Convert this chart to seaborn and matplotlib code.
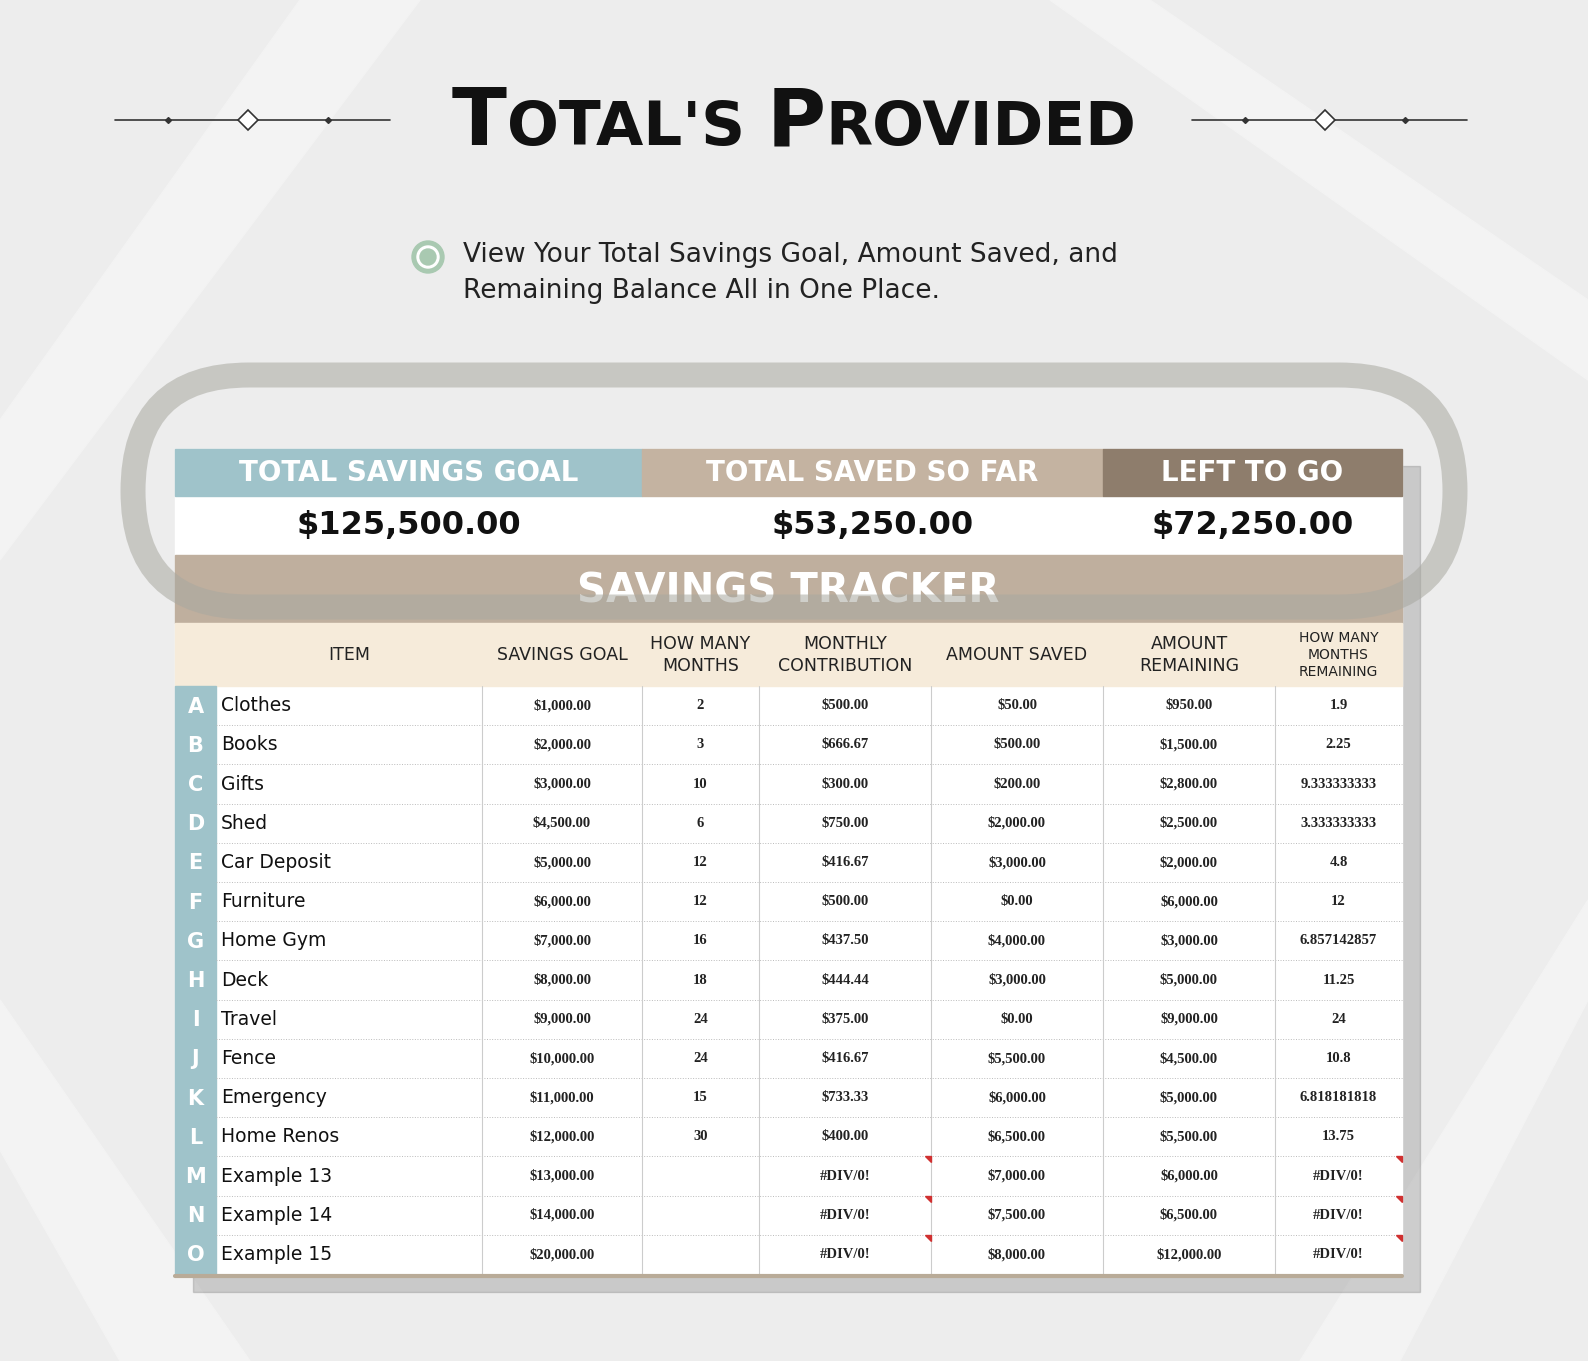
import matplotlib
matplotlib.use("Agg")
import matplotlib.pyplot as plt
import seaborn as sns
from matplotlib.patches import Rectangle, FancyBboxPatch, Polygon, Circle

sns.set_theme(style="white")
plt.rcParams['font.family'] = ['DejaVu Sans']

# ---------------- data ----------------
letters = list("ABCDEFGHIJKLMNO")
items = ["Clothes", "Books", "Gifts", "Shed", "Car Deposit", "Furniture", "Home Gym", "Deck",
         "Travel", "Fence", "Emergency", "Home Renos", "Example 13", "Example 14", "Example 15"]
goals = ["$1,000.00", "$2,000.00", "$3,000.00", "$4,500.00", "$5,000.00", "$6,000.00", "$7,000.00",
         "$8,000.00", "$9,000.00", "$10,000.00", "$11,000.00", "$12,000.00", "$13,000.00",
         "$14,000.00", "$20,000.00"]
months = ["2", "3", "10", "6", "12", "12", "16", "18", "24", "24", "15", "30", "", "", ""]
monthly = ["$500.00", "$666.67", "$300.00", "$750.00", "$416.67", "$500.00", "$437.50", "$444.44",
           "$375.00", "$416.67", "$733.33", "$400.00", "#DIV/0!", "#DIV/0!", "#DIV/0!"]
saved = ["$50.00", "$500.00", "$200.00", "$2,000.00", "$3,000.00", "$0.00", "$4,000.00", "$3,000.00",
         "$0.00", "$5,500.00", "$6,000.00", "$6,500.00", "$7,000.00", "$7,500.00", "$8,000.00"]
remaining = ["$950.00", "$1,500.00", "$2,800.00", "$2,500.00", "$2,000.00", "$6,000.00", "$3,000.00",
             "$5,000.00", "$9,000.00", "$4,500.00", "$5,000.00", "$5,500.00", "$6,000.00",
             "$6,500.00", "$12,000.00"]
months_left = ["1.9", "2.25", "9.333333333", "3.333333333", "4.8", "12", "6.857142857", "11.25",
               "24", "10.8", "6.818181818", "13.75", "#DIV/0!", "#DIV/0!", "#DIV/0!"]
headers = ["ITEM", "SAVINGS GOAL", "HOW MANY\nMONTHS", "MONTHLY\nCONTRIBUTION", "AMOUNT SAVED",
           "AMOUNT\nREMAINING", "HOW MANY\nMONTHS\nREMAINING"]
totals_labels = ["TOTAL SAVINGS GOAL", "TOTAL SAVED SO FAR", "LEFT TO GO"]
totals_values = ["$125,500.00", "$53,250.00", "$72,250.00"]

TEAL, TAN, BROWN, CREAM = "#9fc3ca", "#c4b3a1", "#8e7d6c", "#f6ebda"

fig = plt.figure(figsize=(15.88, 13.61), dpi=100)
ax = fig.add_axes([0, 0, 1, 1])
ax.set_xlim(0, 1588)
ax.set_ylim(1361, 0)
ax.axis("off")
ax.add_patch(Rectangle((0, 0), 1588, 1361, color="#ededed", zorder=0))
for pts in [[(0, 420), (300, 0), (420, 0), (0, 560)], [(1150, 0), (1588, 300), (1588, 380), (1050, 0)],
            [(1300, 1361), (1588, 900), (1588, 1000), (1400, 1361)], [(0, 1000), (250, 1361), (120, 1361), (0, 1150)]]:
    ax.add_patch(Polygon(pts, color="#f3f3f3", zorder=0.5))

# title (small caps look)
ax.text(794, 120, "T$\\mathregular{{}}$", alpha=0)
title_parts = [("T", 58), ("OTAL'S ", 44), ("P", 58), ("ROVIDED", 44)]
renderer = fig.canvas.get_renderer()
objs, widths = [], []
for s, fs in title_parts:
    t = ax.text(0, 145, s, ha="left", va="baseline", fontsize=fs, fontweight="heavy", color="#111111")
    bb = t.get_window_extent(renderer=renderer)
    objs.append(t)
    widths.append(bb.width)
x = 794 - sum(widths) / 2
for t, w in zip(objs, widths):
    t.set_x(x)
    x += w
for x0, x1 in [(115, 390), (1192, 1467)]:
    ax.plot([x0, x1], [120, 120], color="#333333", lw=1.2)
    cx = (x0 + x1) / 2 - 5
    ax.plot([cx], [120], marker="D", ms=10, mfc="white", mec="#333333", mew=1.2)
    for dx in (-80, 80):
        ax.plot([cx + dx], [120], marker="D", ms=3, color="#333333")

# bullet
ax.add_patch(Circle((428, 257), 16, color="#a9c9b1"))
ax.add_patch(Circle((428, 257), 11, color="white"))
ax.add_patch(Circle((428, 257), 8, color="#a9c9b1"))
ax.text(463, 255, "View Your Total Savings Goal, Amount Saved, and", va="center", fontsize=19, color="#222222")
ax.text(463, 291, "Remaining Balance All in One Place.", va="center", fontsize=19, color="#222222")

# table
L, R = 175, 1402
cols = [175, 216, 482, 642, 759, 931, 1103, 1275, 1402]
ax.add_patch(Rectangle((L + 18, 466), R - L, 826, color="#777777", alpha=0.3, zorder=1))
ax.add_patch(Rectangle((L, 449), R - L, 825, color="white", zorder=2))
bx = [(175, 642, TEAL), (642, 1103, TAN), (1103, 1402, BROWN)]
for (x0, x1, c), lab, val in zip(bx, totals_labels, totals_values):
    ax.add_patch(Rectangle((x0, 449), x1 - x0, 47, color=c, zorder=3))
    ax.text((x0 + x1) / 2, 473, lab, ha="center", va="center", fontsize=20, fontweight="bold",
            color="white", zorder=4)
    ax.text((x0 + x1) / 2, 525, val, ha="center", va="center", fontsize=23, fontweight="bold", color="#111111", zorder=4)
ax.add_patch(Rectangle((L, 555), R - L, 68, color="#bfaf9e", zorder=3))
ax.text((L + R) / 2, 591, "SAVINGS TRACKER", ha="center", va="center", fontsize=29, fontweight="bold",
        color="white", zorder=4)
ax.add_patch(Rectangle((L, 623), R - L, 63, color=CREAM, zorder=3))
for i, h in enumerate(headers):
    ax.text((cols[i + 1] + cols[i + 2]) / 2, 655, h, ha="center", va="center",
            fontsize=10 if i == 6 else 12.5, color="#222222", zorder=4, linespacing=1.3)
top, rh = 686, 39.2
ax.add_patch(Rectangle((L, top), cols[1] - L, rh * 15, color=TEAL, zorder=3))
for r in range(15):
    y = top + rh * r + rh / 2
    ax.text((cols[0] + cols[1]) / 2, y + 1, letters[r], ha="center", va="center", fontsize=15,
            fontweight="bold", color="white", zorder=4)
    ax.text(cols[1] + 5, y, items[r], ha="left", va="center", fontsize=13.5, color="#111111", zorder=4)
    for j, vals in enumerate([goals, months, monthly, saved, remaining, months_left]):
        ax.text((cols[j + 2] + cols[j + 3]) / 2, y, vals[r], ha="center", va="center", fontsize=10.5,
                family="Liberation Serif", fontweight="bold", color="#222222", zorder=4)
    ax.plot([cols[1], R], [top + rh * (r + 1)] * 2, color="#bbbbbb", lw=0.7, ls=":", zorder=4)
    if r >= 12:
        for xc in (cols[5], R):
            ax.add_patch(Polygon([(xc - 6, top + rh * r), (xc, top + rh * r), (xc, top + rh * r + 6)],
                                 color="#d03030", zorder=5))
for xc in cols[2:-1]:
    ax.plot([xc, xc], [top, top + rh * 15], color="#cccccc", lw=0.8, zorder=4)
ax.plot([L, R], [top + rh * 15 + 2] * 2, color="#b9ab98", lw=3, zorder=4)

# rounded highlight
ax.add_patch(FancyBboxPatch((133, 375), 1322, 232, boxstyle="round,pad=0,rounding_size=116",
                            fill=False, ec="#a8a8a0", lw=18, alpha=0.55, zorder=6))

fig.savefig("out.png", dpi=100)
